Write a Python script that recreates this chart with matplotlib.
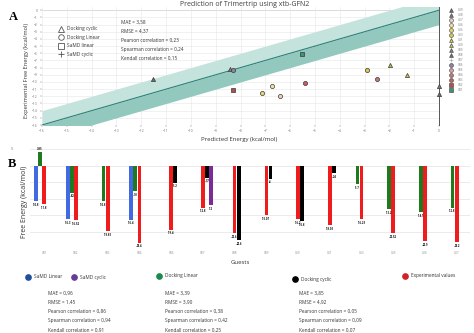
import matplotlib.pyplot as plt
import numpy as np

plt.rcParams["font.family"] = ["Open Sans", "DejaVu Sans"]

nan = np.nan

# ---- panel A: Trimertrip predicted with xtb-GFN2 ----
GUESTS_A = ["G19", "G18", "G17", "G16", "G15", "G13", "G11", "G10", "G09",
            "G08", "G07", "G06", "G05", "G04", "G03", "G02", "G01"]
MARKERS_A = ["^", "^", "o", "o", "o", "o", "^", "^", "^",
             "^", "+", "o", "o", "o", "o", "s", "s"]
COLORS_A = ["#6e6e6e", "#7a7a7a", "#f0cdc4", "#efe2a6", "#e6d56e", "#dcc84e",
            "#cfc24a", "#b9bd52", "#808080", "#707070", "#a0a0a0", "#8f86a6",
            "#d8a3a0", "#c07a78", "#c46262", "#b0504e", "#3f9274"]
PRED_A = [0.0, 0.0, -6.42, -6.72, -7.12, -2.91, -1.3, -1.99, -8.43,
          -11.52, nan, -8.3, nan, -2.5, -5.4, -8.3, -5.51]
EXP_A = [-11.7, -10.6, -11.9, -10.6, -11.57, -8.38, -9.07, -7.64, -8.24,
         -9.58, nan, -8.4, nan, -9.63, -10.1, -11.1, -6.16]
STATS_A = ["MAE = 3,58", "RMSE = 4,37", "Pearson correlation = 0,23",
           "Spearman correlation = 0,24", "Kendall correlation = 0,15"]
SHAPES_A = [("^", "Docking cyclic"), ("o", "Docking Linear"),
            ("s", "SaMD linear"), ("+", "SaMD cyclic")]
LIMS_A = [-16, 0]
BAND = 2.0

# ---- panel B: per-guest free energies ----
GUESTS_B = ["G01", "G02", "G03", "G04", "G06", "G07", "G08", "G09", "G10",
            "G11", "G13", "G15", "G16", "G17"]
SAMD_LIN = [-10.8, -16.3, nan, -16.4, nan, nan, nan, nan, nan, nan, nan, nan, nan, nan]
DOCK_LIN = [3.95, -8.2, -10.8, -7.8, nan, nan, nan, nan, nan, nan, -5.7, -13.2, -14.1, -12.8]
EXPER = [-11.8, -16.52, -19.85, -23.4, -19.4, -12.8, -20.6, -15.07, -16.2,
         -18.03, -16.29, -20.52, -22.9, -23.2]
DOCK_CYC = [nan, nan, nan, nan, -5.2, -3.7, -22.6, -4.0, -16.8, -2.4, nan, nan, nan, nan]
SAMD_CYC = [nan, nan, nan, nan, nan, -12.0, nan, nan, nan, nan, nan, nan, nan, nan]
YTICKS_B = [-25, -20, -15, -10, -5, 0, 5]
YLABELS_B = ["", "", "", "", "", "", "5"]

STATS_B = [
    ["MAE = 0,96", "RMSE = 1,45", "Pearson correlation = 0,86",
     "Spearman correlation = 0,94", "Kendall correlation = 0,91"],
    ["MAE = 3,39", "RMSE = 3,90", "Pearson correlation = 0,38",
     "Spearman correlation = 0,42", "Kendall correlation = 0,25"],
    ["MAE = 3,85", "RMSE = 4,92", "Pearson correlation = 0,05",
     "Spearman correlation = 0,09", "Kendall correlation = 0,07"],
]

W, H = 474, 333


def box(left, top, right, bottom):
    return [left / W, 1 - bottom / H, (right - left) / W, (bottom - top) / H]


fig = plt.figure(figsize=(W / 100, H / 100), dpi=100)

# ---------------- panel A ----------------
axA = fig.add_axes(box(42, 7, 439, 125))
xs = np.array(LIMS_A, dtype=float)
axA.fill_between(xs, xs, xs + BAND, color="#c3e3dc", lw=0, zorder=1)
axA.fill_between(xs, xs - BAND, xs, color="#92c8be", lw=0, zorder=1)
axA.plot(xs, xs, color="#2f7f79", lw=0.8, zorder=2)
for m, c, px, ey in zip(MARKERS_A, COLORS_A, PRED_A, EXP_A):
    if np.isnan(px):
        continue
    axA.plot(px, ey, marker=m, ms=3, mfc=c, mec="#3a3a3a" if m != "+" else c,
             mew=0.5, ls="none", clip_on=False, zorder=4)
axA.set_xlim(LIMS_A[0], LIMS_A[1])
axA.set_ylim(LIMS_A[0], 0.45)
ticks = np.arange(LIMS_A[0], LIMS_A[1] + 1)
axA.set_xticks(ticks)
axA.set_yticks(ticks)
axA.tick_params(labelsize=2.4, colors="#777777", length=1.5, width=0.3, pad=1.5)
axA.grid(color="#e6e6e6", lw=0.4)
axA.set_axisbelow(True)
for s in ("top", "left", "bottom"):
    axA.spines[s].set_visible(False)
axA.spines["right"].set_color("#555555")
axA.spines["right"].set_linewidth(0.7)
axA.axhline(0, color="#c8c8c8", lw=0.6, zorder=0.5)

# ---------------- panel B ----------------
axB = fig.add_axes(box(30, 149, 470, 248))
idx = np.arange(len(GUESTS_B))
SLOT = 0.13
series = [(SAMD_LIN, "#4169e1", -2), (DOCK_LIN, "#1f7a1f", -1),
          (EXPER, "#ee1c1c", 0), (DOCK_CYC, "#000000", 1), (SAMD_CYC, "#7b2a96", 2)]
for vals, col, k in series:
    v = np.array(vals, dtype=float)
    ok = ~np.isnan(v)
    xpos = idx[ok] + k * SLOT
    axB.bar(xpos, v[ok], width=0.115, color=col, zorder=3)
    for x, y in zip(xpos, v[ok]):
        axB.text(x, y + (0.5 if y > 0 else -0.5), f"{y:g}", fontsize=2.0,
                 fontweight="bold", ha="center", va="bottom" if y > 0 else "top",
                 color="#111111", zorder=4)
axB.set_xlim(-0.45, len(GUESTS_B) - 0.58)
axB.set_ylim(YTICKS_B[0], YTICKS_B[-1])
axB.set_yticks(YTICKS_B, YLABELS_B)
axB.set_xticks(idx, GUESTS_B)
axB.tick_params(axis="x", labelsize=2.2, colors="#8a8a8a", length=0, pad=2)
axB.tick_params(axis="y", labelsize=3, colors="#777777", length=0, pad=12)
axB.grid(axis="y", color="#e3e3e3", lw=0.5)
axB.set_axisbelow(True)
for s in axB.spines.values():
    s.set_visible(False)

# ---------------- annotations (pixel overlay) ----------------
ov = fig.add_axes([0, 0, 1, 1], zorder=10)
ov.set_xlim(0, W)
ov.set_ylim(H, 0)
ov.axis("off")

ov.text(245, 4, "Prediction of Trimertrip using xtb-GFN2", fontsize=5,
        color="#404040", ha="center", va="center")
ov.text(13, 17, "A", fontsize=9, fontweight="bold", family="Liberation Serif",
        ha="center", va="center")
ov.text(12, 164, "B", fontsize=9, fontweight="bold", family="Liberation Serif",
        ha="center", va="center")
ov.text(239, 139, "Predicted Energy (kcal/mol)", fontsize=4.3, color="#333333",
        ha="center", va="center")
ov.text(27, 70, "Experimental Free Energy (kcal/mol)", fontsize=4.1,
        color="#333333", ha="center", va="center", rotation=90)
ov.text(25, 202, "Free Energy (kcal/mol)", fontsize=5, color="#333333",
        ha="center", va="center", rotation=90)
ov.text(240, 263, "Guests", fontsize=4.3, color="#333333",
        ha="center", va="center")

for i, s in enumerate(STATS_A):
    ov.text(121, 22.5 + 8.9 * i, s, fontsize=3.4, color="#333333", va="center")

for i, (m, lab) in enumerate(SHAPES_A):
    y = 28.5 + 8.6 * i
    ov.plot(61, y, marker=m, ms=4, mfc="white", mec="#555555", mew=0.6, ls="none")
    ov.text(67, y, lab, fontsize=3.4, color="#333333", va="center")

for i, (g, m, c) in enumerate(zip(GUESTS_A, MARKERS_A, COLORS_A)):
    y = 9.7 + 5.0 * i
    ov.plot(451, y, marker=m, ms=2.8, mfc=c, mec="#3a3a3a" if m != "+" else c,
            mew=0.4, ls="none")
    ov.text(458, y, g, fontsize=2.2, color="#777777", va="center")

legend_b = [("SaMD Linear", "#1f4e9c", 28, 277), ("SaMD cyclic", "#6a3a9a", 74, 277),
            ("Docking Linear", "#1a8a4a", 159, 276), ("Docking cyclic", "#000000", 295, 279),
            ("Experimental values", "#d0202a", 405, 276)]
for lab, c, x, y in legend_b:
    ov.plot(x, y, marker="o", ms=3.8, mfc=c, mec=c, ls="none")
    ov.text(x + 6, y, lab, fontsize=3.4, color="#333333", va="center")

for xb, block in zip([48, 165, 299], STATS_B):
    for i, s in enumerate(block):
        ov.text(xb, 293.3 + 9.2 * i, s, fontsize=3.4, color="#333333", va="center")

fig.savefig("out.png", dpi=100)
